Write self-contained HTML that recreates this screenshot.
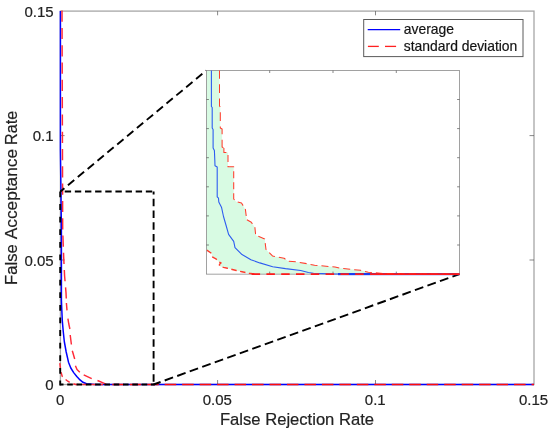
<!DOCTYPE html>
<html><head><meta charset="utf-8"><title>ROC</title>
<style>
html,body{margin:0;padding:0;background:#fff;}
svg{display:block;}
text{font-family:"Liberation Sans",sans-serif;fill:#222;stroke:#222;stroke-width:0.2px;}
.t{font-size:15px;}
.lab{font-size:16.6px;}
.lg{font-size:13.9px;fill:#111;}
.ax{stroke:#a6a6a6;stroke-width:1.3;fill:none;}
.iax{stroke:#8a8a8a;stroke-width:0.8;fill:none;}
.tk{stroke:#555;stroke-width:0.7;}
.b{stroke:#0000ff;stroke-width:1.5;fill:none;stroke-linejoin:round;}
.r{stroke:#ff2a38;stroke-width:1.45;fill:none;stroke-dasharray:11.4 6.1;stroke-linejoin:round;}
.ri{stroke:#ff3c2c;stroke-width:1.05;fill:none;stroke-dasharray:8 4;stroke-linejoin:round;}
.bi{stroke:#2e5cf0;stroke-width:1.1;fill:none;stroke-linejoin:round;}
.k{stroke:#000;stroke-width:1.9;fill:none;}
</style></head>
<body>
<svg width="550" height="434" viewBox="0 0 550 434">
<rect x="0" y="0" width="550" height="434" fill="#fff"/>
<!-- main axes -->
<rect x="60.4" y="11.1" width="473.6" height="373.4" class="ax"/>
<line x1="217.6" y1="384.5" x2="217.6" y2="380.0" class="tk"/><line x1="217.6" y1="11.1" x2="217.6" y2="15.3" class="tk"/><line x1="60.4" y1="260.0" x2="64.6" y2="260.0" class="tk"/><line x1="534.0" y1="260.0" x2="529.5" y2="260.0" class="tk"/><line x1="375.5" y1="384.5" x2="375.5" y2="380.0" class="tk"/><line x1="375.5" y1="11.1" x2="375.5" y2="15.3" class="tk"/><line x1="60.4" y1="135.6" x2="64.6" y2="135.6" class="tk"/><line x1="534.0" y1="135.6" x2="529.5" y2="135.6" class="tk"/>
<!-- main curves -->
<polyline class="b" points="60.4,11.1 60.4,150.0 61.0,195.0 61.4,230.0 61.4,300.0 61.8,310.0 62.3,320.7 63.2,331.0 64.3,341.5 66.2,352.0 68.5,362.2 70.8,368.0 73.7,372.6 76.8,376.5 80.0,379.9 83.0,382.3 86.5,383.8 95.0,384.5 534.0,384.5"/>
<polyline class="r" points="62.0,10.6 62.3,100.0 62.6,190.0 62.7,230.0 63.7,257.6 64.6,276.0 66.0,292.6 66.3,299.0" style="stroke-dasharray:11.2 6.1"/>
<path class="r" style="stroke-dasharray:none" d="M66.4 303L67 310.4M67.9 318.7L68.8 324L69.9 329M70.2 335L71.4 344.5M72.3 350.7L74.7 359M75.4 365.7L77 369.5L79.8 372.2M83.7 374.9L91.7 378.7M97.5 380.5L103.7 383.2L106.3 384.4"/>
<polyline class="r" points="59.8,363.2 60.8,371.5 62.2,376.3 65.0,379.0 67.8,381.2 71.2,383.2 76.0,384.5 103.0,384.5" style="stroke-dasharray:5 4"/>
<line x1="112.28" y1="384.5" x2="534.0" y2="384.5" stroke="#ff0a0a" stroke-width="1.7" stroke-dasharray="11.5 5.97"/>
<!-- zoom box -->
<path class="k" d="M60.4 191.5 H154.5" stroke-dasharray="6.4 3.74" stroke-dashoffset="5.84"/>
<path class="k" d="M153.6 191.5 V384.5" stroke-dasharray="7.5 4.2" stroke-dashoffset="4.4"/>
<path class="k" d="M60.199999999999996 191.5 V385.4" stroke-dasharray="5.8 6.8"/>
<path class="k" d="M60.4 384.5 H154.5" stroke-dasharray="5.6 3.7" stroke-dashoffset="2.5"/>
<path class="k" d="M60.4 191.5 L206.4 70.45" stroke-dasharray="8.2 4.6" stroke-dashoffset="3"/>
<path class="k" d="M153.6 384.5 L459.6 274.1" stroke-dasharray="8.9 4.4" stroke-dashoffset="1.5"/>
<!-- inset -->
<rect x="206.4" y="70.45" width="253.2" height="203.7" fill="#fff"/>
<clipPath id="ic"><rect x="206.4" y="70.45" width="253.2" height="205.2"/></clipPath>
<g clip-path="url(#ic)">
<polygon points="206.4,70.5 219.5,70.0 219.5,106.0 220.3,107.0 220.3,128.0 222.1,129.0 222.1,147.0 223.9,148.0 223.9,152.5 228.0,152.5 228.0,166.8 233.7,166.8 233.7,199.0 236.3,201.7 241.5,203.0 245.4,209.4 246.7,219.7 251.3,222.3 254.9,227.5 255.7,235.2 264.7,239.1 266.0,249.5 272.5,255.9 284.1,258.3 288.0,261.1 296.8,261.9 307.0,263.7 314.6,265.2 335.0,267.0 340.3,268.3 360.6,270.3 368.3,272.3 383.5,273.5 459.6,274.1 459.6,274.1 254.7,273.9 249.0,273.3 242.0,271.8 236.3,270.5 227.4,268.3 223.5,267.4 219.5,266.1 219.5,264.3 221.0,262.9 218.5,261.6 215.9,258.8 212.7,257.2 211.5,253.4 206.8,250.2 206.4,250.5" fill="#d8fbe3"/>
</g>
<rect x="206.4" y="70.45" width="253.2" height="203.7" class="iax"/>
<line x1="269.7" y1="70.5" x2="269.7" y2="73.0" class="tk"/><line x1="269.7" y1="274.1" x2="269.7" y2="271.6" class="tk"/><line x1="333.0" y1="70.5" x2="333.0" y2="73.0" class="tk"/><line x1="333.0" y1="274.1" x2="333.0" y2="271.6" class="tk"/><line x1="396.3" y1="70.5" x2="396.3" y2="73.0" class="tk"/><line x1="396.3" y1="274.1" x2="396.3" y2="271.6" class="tk"/><line x1="206.4" y1="245.0" x2="208.9" y2="245.0" class="tk"/><line x1="459.6" y1="245.0" x2="457.1" y2="245.0" class="tk"/><line x1="206.4" y1="215.9" x2="208.9" y2="215.9" class="tk"/><line x1="459.6" y1="215.9" x2="457.1" y2="215.9" class="tk"/><line x1="206.4" y1="186.8" x2="208.9" y2="186.8" class="tk"/><line x1="459.6" y1="186.8" x2="457.1" y2="186.8" class="tk"/><line x1="206.4" y1="157.7" x2="208.9" y2="157.7" class="tk"/><line x1="459.6" y1="157.7" x2="457.1" y2="157.7" class="tk"/><line x1="206.4" y1="128.6" x2="208.9" y2="128.6" class="tk"/><line x1="459.6" y1="128.6" x2="457.1" y2="128.6" class="tk"/><line x1="206.4" y1="99.5" x2="208.9" y2="99.5" class="tk"/><line x1="459.6" y1="99.5" x2="457.1" y2="99.5" class="tk"/>
<g clip-path="url(#ic)">
<polyline class="bi" points="211.4,70.0 211.4,106.5 212.2,107.5 212.2,128.0 213.1,129.5 213.1,148.0 214.4,150.5 214.8,160.0 215.0,165.7 217.2,167.0 217.2,196.9 218.5,198.2 218.8,202.0 221.6,207.6 223.5,216.5 226.1,225.5 228.6,234.4 233.7,241.4 235.0,247.6 242.0,254.6 250.9,259.7 259.8,262.9 272.7,266.7 285.5,268.6 300.7,270.5 308.4,272.5 313.5,273.3 330.0,273.9 345.0,274.0 459.6,274.1"/>
<line x1="338" y1="274.1" x2="459.6" y2="274.1" stroke="#1a3cf0" stroke-width="2.1"/>
<polyline class="ri" points="219.5,70.0 219.5,106.0 220.3,107.0 220.3,128.0 222.1,129.0 222.1,147.0 223.9,148.0" style="stroke-dasharray:8.8 5.4"/>
<polyline class="ri" points="223.9,148.0 223.9,152.5 228.0,152.5 228.0,166.8 233.7,166.8 233.7,199.0 236.3,201.7 241.5,203.0 245.4,209.4 246.7,219.7 251.3,222.3 254.9,227.5 255.7,235.2 264.7,239.1 266.0,249.5 272.5,255.9 284.1,258.3 288.0,261.1 296.8,261.9 307.0,263.7 314.6,265.2 335.0,267.0 340.3,268.3 360.6,270.3 368.3,272.3 383.5,273.5 459.6,274.1" style="stroke-dasharray:7 4"/>
<polyline class="ri" points="206.8,250.2 211.5,253.4 212.7,257.2 215.9,258.8 218.5,261.6 221.0,262.9 219.5,264.3 219.5,266.1 223.5,267.4 227.4,268.3 236.3,270.5 242.0,271.8 249.0,273.3 254.7,273.9" style="stroke-width:1.4;stroke-dasharray:5.5 3.5"/>
<line x1="251.6" y1="274.1" x2="459.6" y2="274.1" stroke="#ff1a1a" stroke-width="1.6" stroke-dasharray="8.5 6.3"/>
<line x1="378" y1="274.1" x2="459.6" y2="274.1" stroke="#ff1a1a" stroke-width="1.6" stroke-dasharray="8.5 6.3"/>
</g>
<!-- legend -->
<rect x="363.7" y="19.5" width="159.3" height="37.1" fill="#fff" stroke="#5a5a5a" stroke-width="1"/>
<line x1="367.7" y1="29.6" x2="400.2" y2="29.6" stroke="#0000ff" stroke-width="1.3"/>
<line x1="367.9" y1="46.4" x2="378.8" y2="46.4" stroke="#ff2020" stroke-width="1.3"/>
<line x1="385" y1="46.4" x2="396.1" y2="46.4" stroke="#ff2020" stroke-width="1.3"/>
<text x="403.8" y="33.6" class="lg">average</text>
<text x="403.8" y="51.4" class="lg">standard deviation</text>
<!-- tick labels -->
<text x="60.2" y="405.2" text-anchor="middle" class="t">0</text><text x="217.3" y="405.2" text-anchor="middle" class="t">0.05</text><text x="375.3" y="405.2" text-anchor="middle" class="t">0.1</text><text x="533.6" y="405.2" text-anchor="middle" class="t">0.15</text>
<text x="53.6" y="390.1" text-anchor="end" class="t">0</text><text x="53.6" y="265.6" text-anchor="end" class="t">0.05</text><text x="53.6" y="141.2" text-anchor="end" class="t">0.1</text><text x="53.6" y="16.7" text-anchor="end" class="t">0.15</text>
<!-- axis labels -->
<text x="297" y="425.2" text-anchor="middle" class="lab">False Rejection Rate</text>
<text transform="translate(16.6 284.9) rotate(-90)" class="lab">False</text>
<text transform="translate(16.6 239.3) rotate(-90)" textLength="90.4" lengthAdjust="spacingAndGlyphs" class="lab">Acceptance</text>
<text transform="translate(16.6 144.9) rotate(-90)" textLength="34.2" lengthAdjust="spacingAndGlyphs" class="lab">Rate</text>
</svg>
</body></html>
